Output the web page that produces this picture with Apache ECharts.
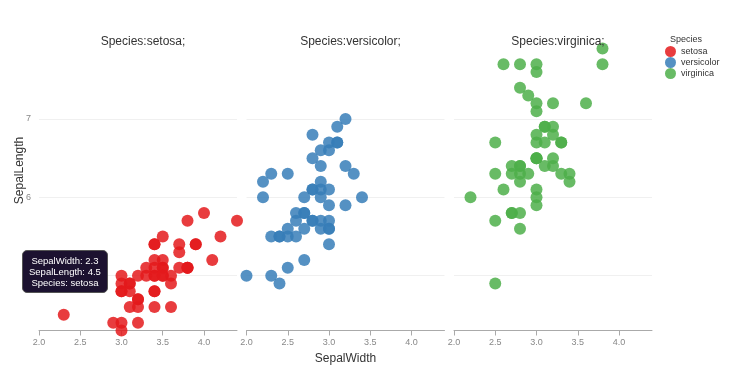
<!DOCTYPE html>
<html>
<head>
<meta charset="utf-8">
<script src="https://cdn.jsdelivr.net/npm/echarts@6/dist/echarts.min.js"></script>
<style>
  html, body { margin: 0; padding: 0; background: #fff; }
  #chart { width: 740px; height: 376px; }
</style>
</head>
<body>
<div id="chart"></div>
<script>
  // iris, sepal measurements per species
  var species = ['setosa', 'versicolor', 'virginica']
  var colors = ['#e41a1c', '#377eb8', '#4daf4a']

  var setosaWidth = [3.5, 3.0, 3.2, 3.1, 3.6, 3.9, 3.4, 3.4, 2.9, 3.1, 3.7, 3.4, 3.0, 3.0, 4.0, 4.4, 3.9, 3.5, 3.8, 3.8,
    3.4, 3.7, 3.6, 3.3, 3.4, 3.0, 3.4, 3.5, 3.4, 3.2, 3.1, 3.4, 4.1, 4.2, 3.1, 3.2, 3.5, 3.6, 3.0, 3.4,
    3.5, 2.3, 3.2, 3.5, 3.8, 3.0, 3.8, 3.2, 3.7, 3.3]
  var setosaLength = [5.1, 4.9, 4.7, 4.6, 5.0, 5.4, 4.6, 5.0, 4.4, 4.9, 5.4, 4.8, 4.8, 4.3, 5.8, 5.7, 5.4, 5.1, 5.7, 5.1,
    5.4, 5.1, 4.6, 5.1, 4.8, 5.0, 5.0, 5.2, 5.2, 4.7, 4.8, 5.4, 5.2, 5.5, 4.9, 5.0, 5.5, 4.9, 4.4, 5.1,
    5.0, 4.5, 4.4, 5.0, 5.1, 4.8, 5.1, 4.6, 5.3, 5.0]

  var versicolorWidth = [3.2, 3.2, 3.1, 2.3, 2.8, 2.8, 3.3, 2.4, 2.9, 2.7, 2.0, 3.0, 2.2, 2.9, 2.9, 3.1, 3.0, 2.7, 2.2, 2.5,
    3.2, 2.8, 2.5, 2.8, 2.9, 3.0, 2.8, 3.0, 2.9, 2.6, 2.4, 2.4, 2.7, 2.7, 3.0, 3.4, 3.1, 2.3, 3.0, 2.5,
    2.6, 3.0, 2.6, 2.3, 2.7, 3.0, 2.9, 2.9, 2.5, 2.8]
  var versicolorLength = [7.0, 6.4, 6.9, 5.5, 6.5, 5.7, 6.3, 4.9, 6.6, 5.2, 5.0, 5.9, 6.0, 6.1, 5.6, 6.7, 5.6, 5.8, 6.2, 5.6,
    5.9, 6.1, 6.3, 6.1, 6.4, 6.6, 6.8, 6.7, 6.0, 5.7, 5.5, 5.5, 5.8, 6.0, 5.4, 6.0, 6.7, 6.3, 5.6, 5.5,
    5.5, 6.1, 5.8, 5.0, 5.6, 5.7, 5.7, 6.2, 5.1, 5.7]

  var virginicaWidth = [3.3, 2.7, 3.0, 2.9, 3.0, 3.0, 2.5, 2.9, 2.5, 3.6, 3.2, 2.7, 3.0, 2.5, 2.8, 3.2, 3.0, 3.8, 2.6, 2.2,
    3.2, 2.8, 2.8, 2.7, 3.3, 3.2, 2.8, 3.0, 2.8, 3.0, 2.8, 3.8, 2.8, 2.8, 2.6, 3.0, 3.4, 3.1, 3.0, 3.1,
    3.1, 3.1, 2.7, 3.2, 3.3, 3.0, 2.5, 3.0, 3.4, 3.0]
  var virginicaLength = [6.3, 5.8, 7.1, 6.3, 6.5, 7.6, 4.9, 7.3, 6.7, 7.2, 6.5, 6.4, 6.8, 5.7, 5.8, 6.4, 6.5, 7.7, 7.7, 6.0,
    6.9, 5.6, 7.7, 6.3, 6.7, 7.2, 6.2, 6.1, 6.4, 7.2, 7.4, 7.9, 6.4, 6.3, 6.1, 7.7, 6.3, 6.4, 6.0, 6.9,
    6.7, 6.9, 5.8, 6.8, 6.7, 6.7, 6.3, 6.5, 6.2, 5.9]

  var xTicks = [2.0, 2.5, 3.0, 3.5, 4.0]
  var yTicks = [5, 6, 7]
  var xRange = [2.0, 4.4]
  var yRange = [4.3, 7.9]

  var widths = [setosaWidth, versicolorWidth, virginicaWidth]
  var lengths = [setosaLength, versicolorLength, virginicaLength]

  function pairs (xs, ys) {
    var out = []
    for (var i = 0; i < xs.length; i++) out.push([xs[i], ys[i]])
    return out
  }

  var font = 'Liberation Sans, Arial, sans-serif'
  var gridLefts = [39, 246.5, 454]
  var grids = [], xAxes = [], yAxes = [], titles = [], series = []

  species.forEach(function (sp, i) {
    grids.push({ left: gridLefts[i], width: 198, top: 48.5, height: 282 })
    titles.push({
      text: 'Species:' + sp + ';',
      left: gridLefts[i] + 99,
      top: 31,
      textAlign: 'center',
      textStyle: { fontSize: 12, fontWeight: 'normal', color: '#333', fontFamily: font }
    })
    xAxes.push({
      gridIndex: i,
      type: 'value',
      min: xRange[0],
      max: xRange[1],
      interval: 0.5,
      name: i === 1 ? 'SepalWidth' : '',
      nameLocation: 'middle',
      nameGap: 19,
      nameTextStyle: { fontSize: 12, color: '#333', fontFamily: font },
      axisLine: { show: true, lineStyle: { color: '#aaa', width: 1 } },
      axisTick: { show: true, length: 5, customValues: xTicks, lineStyle: { color: '#aaa' } },
      axisLabel: {
        customValues: xTicks,
        formatter: function (v) { return v.toFixed(1) },
        fontSize: 9, color: '#888', margin: 8, fontFamily: font
      },
      splitLine: { show: false }
    })
    yAxes.push({
      gridIndex: i,
      type: 'value',
      min: yRange[0],
      max: yRange[1],
      name: i === 0 ? 'SepalLength' : '',
      nameLocation: 'middle',
      nameGap: 13,
      nameMoveOverlap: false,
      nameTextStyle: { fontSize: 12, color: '#333', padding: [0, 0, 0, 38], fontFamily: font },
      axisLine: { show: false },
      axisTick: { show: false },
      axisLabel: {
        show: i === 0,
        customValues: yTicks,
        fontSize: 9, color: '#888', margin: 8, fontFamily: font
      },
      splitLine: { show: false }
    })
    series.push({
      name: sp,
      type: 'scatter',
      xAxisIndex: i,
      yAxisIndex: i,
      symbolSize: 12,
      clip: true,
      z: 3,
      itemStyle: { color: colors[i], opacity: 0.85 },
      // horizontal grid lines at the y tick values
      markLine: {
        silent: true,
        z: 1,
        symbol: ['none', 'none'],
        label: { show: false },
        lineStyle: { color: '#f0f0f0', width: 1, type: 'solid' },
        emphasis: { disabled: true },
        data: yTicks.map(function (v) { return { yAxis: v } })
      },
      data: pairs(widths[i], lengths[i])
    })
  })

  titles.push({
    text: 'Species',
    left: 665,
    top: 30,
    textStyle: { fontSize: 9, fontWeight: 'normal', color: '#333', fontFamily: font }
  })

  var myChart = echarts.init(document.getElementById('chart'))
  myChart.setOption({
    animation: false,
    title: titles,
    grid: grids,
    xAxis: xAxes,
    yAxis: yAxes,
    legend: {
      data: species,
      orient: 'vertical',
      left: 665,
      top: 46,
      icon: 'circle',
      itemWidth: 11,
      itemHeight: 11,
      itemGap: 0,
      padding: 0,
      textStyle: { fontSize: 9, color: '#333', fontFamily: font }
    },
    tooltip: {
      trigger: 'item',
      triggerOn: 'none',
      alwaysShowContent: true,
      transitionDuration: 0,
      backgroundColor: '#1c1230',
      borderColor: '#555',
      borderWidth: 1,
      padding: [4, 6],
      textStyle: { color: '#fff', fontSize: 9.5, lineHeight: 11, fontFamily: font },
      extraCssText: 'border-radius:5px;text-align:center;box-shadow:none;line-height:11px;',
      position: function () { return [22, 250] },
      formatter: function (p) {
        return 'SepalWidth: ' + p.value[0] + '<br/>SepalLength: ' + p.value[1] + '<br/>Species: ' + p.seriesName
      }
    },
    series: series
  })
  myChart.dispatchAction({ type: 'showTip', seriesIndex: 0, dataIndex: 41 })
</script>
</body>
</html>
